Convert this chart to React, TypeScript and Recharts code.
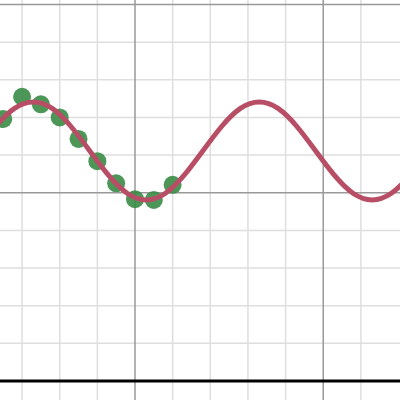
import { ComposedChart, Line, Scatter, XAxis, YAxis, ReferenceLine } from "recharts";

const CURVE_COLOR = "#b84e66";
const DOT_COLOR = "#388c46";

// grid positions in graph units (one minor square = 1)
const minorX = [-3, -2, -1, 1, 2, 3, 4, 6];
const majorX = [0, 5];
const minorY = [1, 2, 3, 4, 6, 7, 8, 9];
const majorY = [5, 10];

const curveX = [-4.2, -3.7, -3.2, -2.7, -2.2, -1.7, -1.2, -0.7, -0.2, 0.3, 0.8, 1.3, 1.8, 2.3, 2.8, 3.3, 3.8, 4.3, 4.8, 5.3, 5.8, 6.3, 6.8, 7.3, 7.8];
const curveY = [6.11, 6.76, 7.24, 7.41, 7.24, 6.76, 6.11, 5.46, 4.98, 4.81, 4.98, 5.46, 6.11, 6.76, 7.24, 7.41, 7.24, 6.76, 6.11, 5.46, 4.98, 4.81, 4.98, 5.46, 6.11];

// green points
const pointX = [-3.5, -3, -2.5, -2, -1.5, -1, -0.5, 0, 0.5, 1];
const pointY = [6.96, 7.55, 7.35, 7.0, 6.43, 5.84, 5.25, 4.83, 4.81, 5.21];

const curve = curveX.map((x, i) => ({ x, y: curveY[i] }));
const points = pointX.map((x, i) => ({ x, y: pointY[i] }));

function Dot(props: any) {
  const { cx, cy } = props;
  if (cx == null || cy == null) return null;
  return <circle cx={cx} cy={cy} r={9} fill={DOT_COLOR} fillOpacity={0.9} />;
}

export default function App() {
  return (
    <div style={{ position: "absolute", left: 0, top: 0, width: 400, height: 400, background: "#fff" }}>
      <ComposedChart width={400} height={400} margin={{ top: 0, right: 0, bottom: 0, left: 0 }}>
        <XAxis type="number" dataKey="x" hide domain={[-3.586, 7.039]} allowDataOverflow />
        <YAxis type="number" dataKey="y" hide domain={[-0.505, 10.12]} allowDataOverflow />
        {minorX.map((v) => (
          <ReferenceLine key={"mx" + v} x={v} stroke="#dedede" strokeWidth={1.5} />
        ))}
        {minorY.map((v) => (
          <ReferenceLine key={"my" + v} y={v} stroke="#dedede" strokeWidth={1.5} />
        ))}
        {majorX.map((v) => (
          <ReferenceLine key={"Mx" + v} x={v} stroke="#999" strokeWidth={1.5} />
        ))}
        {majorY.map((v) => (
          <ReferenceLine key={"My" + v} y={v} stroke="#999" strokeWidth={1.5} />
        ))}
        <ReferenceLine y={0} stroke="#000" strokeWidth={3} />
        <Scatter data={points} dataKey="y" shape={<Dot />} isAnimationActive={false} />
        <Line
          data={curve}
          dataKey="y"
          type="natural"
          stroke={CURVE_COLOR}
          strokeWidth={5}
          dot={false}
          activeDot={false}
          isAnimationActive={false}
          {...({ zIndex: 700 } as any)}
        />
      </ComposedChart>
    </div>
  );
}
